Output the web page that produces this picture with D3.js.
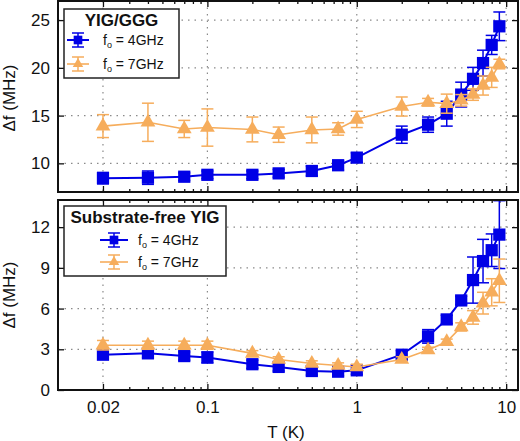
<!DOCTYPE html>
<html>
<head>
<meta charset="utf-8">
<script src="https://cdn.jsdelivr.net/npm/d3@7"></script>
<style>
  body { margin: 0; background: #fff; }
  text { font-family: "Liberation Sans", Arial, sans-serif; }
</style>
</head>
<body>
<div class="viz"></div>
<script>
// temperatures (K) shared by every series
var temps = [0.02, 0.04, 0.07, 0.1, 0.2, 0.3, 0.5, 0.75, 1, 2, 3, 4, 5, 6, 7, 8, 9];

// YIG/GGG linewidths (MHz)
var ggg4 = [8.45, 8.5, 8.6, 8.8, 8.8, 8.95, 9.2, 9.8, 10.6, 13.0, 14.05, 15.2, 17.2, 18.85, 20.5, 22.4, 24.35];
var ggg4Err = [0.6, 0.7, 0.4, 0.4, 0.4, 0.4, 0.5, 0.5, 0.5, 0.9, 0.8, 1.3, 1.3, 1.2, 1.35, 1.0, 1.5];
var ggg7 = [13.9, 14.3, 13.6, 13.75, 13.55, 13.0, 13.5, 13.6, 14.6, 15.95, 16.4, 16.25, 16.6, 17.2, 18.15, 19.0, 20.4];
var ggg7Err = [1.2, 2.0, 0.9, 1.95, 1.3, 0.8, 1.35, 0.65, 0.85, 1.0, 0.4, 1.0, 0.6, 0.6, 1.0, 1.05, 0.5];

// substrate-free YIG linewidths (MHz)
var free4 = [2.6, 2.7, 2.5, 2.4, 1.9, 1.7, 1.4, 1.35, 1.45, 2.6, 3.95, 5.2, 6.6, 8.1, 9.5, 10.3, 11.45];
var free4Err = [0.3, 0.3, 0.3, 0.4, 0.3, 0.3, 0.3, 0.3, 0.3, 0.3, 0.5, 0.3, 0.3, 1.7, 1.6, 1.2, 2.5];
var free7 = [3.3, 3.3, 3.3, 3.3, 2.7, 2.25, 1.95, 1.8, 1.7, 2.25, 2.95, 3.55, 4.65, 5.35, 6.4, 7.2, 8.05];
var free7Err = [0.35, 0.3, 0.3, 0.3, 0.2, 0.2, 0.2, 0.2, 0.2, 0.2, 0.2, 0.2, 0.3, 0.5, 0.8, 1.0, 1.6];

// ticks
var xMajor = [0.02, 0.1, 1, 10];
var xMinor = [0.03, 0.04, 0.05, 0.06, 0.07, 0.08, 0.09, 0.2, 0.3, 0.4, 0.5, 0.6, 0.7, 0.8, 0.9, 2, 3, 4, 5, 6, 7, 8, 9];
var gggTicks = [10, 15, 20, 25];
var freeTicks = [0, 3, 6, 9, 12];

var BLUE = "#0000e6", ORANGE = "#f6ad5c";

var width = 520, height = 441;
var left = 58, right = 518;

var svg = d3.select(".viz")
  .append("svg")
    .attr("width", width)
    .attr("height", height);

var x = d3.scaleLog()
  .domain([0.01, 12])
  .range([left, right]);

var panels = [
  { top: 1, bottom: 192, domain: [7, 27], ticks: gggTicks, title: "YIG/GGG",
    s4: ggg4, e4: ggg4Err, s7: ggg7, e7: ggg7Err,
    legend: { x: 64, y: 9, w: 115, h: 69, mx: 78, lx0: 67, lx1: 89, tx: 103, ty: 26, r1: 40, r2: 64 },
    labelY: 98, xLabels: false },
  { top: 200, bottom: 390, domain: [0, 14], ticks: freeTicks, title: "Substrate-free YIG",
    s4: free4, e4: free4Err, s7: free7, e7: free7Err,
    legend: { x: 64, y: 206, w: 162, h: 70, mx: 114, lx0: 100, lx1: 128, tx: 138, ty: 223, r1: 240, r2: 262 },
    labelY: 295, xLabels: true }
];

panels.forEach(function(p) {
  var y = d3.scaleLinear().domain(p.domain).range([p.bottom, p.top]);
  var g = svg.append("g");

  // grid
  g.append("g").selectAll("line.vgrid")
    .data(xMajor)
    .join("line")
      .attr("x1", d => x(d)).attr("x2", d => x(d))
      .attr("y1", p.top).attr("y2", p.bottom)
      .attr("stroke", "#8a8a8a").attr("stroke-width", 1.2)
      .attr("stroke-dasharray", "1.5,5");
  g.append("g").selectAll("line.hgrid")
    .data(p.ticks.filter(d => d > p.domain[0]))
    .join("line")
      .attr("x1", left).attr("x2", right)
      .attr("y1", d => y(d)).attr("y2", d => y(d))
      .attr("stroke", "#8a8a8a").attr("stroke-width", 1.2)
      .attr("stroke-dasharray", "1.5,5");

  // ticks on all four sides, pointing inwards
  var fmt = d3.format("");
  g.append("g").attr("transform", "translate(0," + p.bottom + ")")
    .call(d3.axisBottom(x).tickValues(xMajor).tickSize(-6).tickPadding(11)
      .tickFormat(p.xLabels ? fmt : ""));
  g.append("g").attr("transform", "translate(0," + p.bottom + ")")
    .call(d3.axisBottom(x).tickValues(xMinor).tickSize(-3).tickFormat(""));
  g.append("g").attr("transform", "translate(0," + p.top + ")")
    .call(d3.axisTop(x).tickValues(xMajor).tickSize(-6).tickFormat(""));
  g.append("g").attr("transform", "translate(0," + p.top + ")")
    .call(d3.axisTop(x).tickValues(xMinor).tickSize(-3).tickFormat(""));
  g.append("g").attr("transform", "translate(" + left + ",0)")
    .call(d3.axisLeft(y).tickValues(p.ticks).tickSize(-6).tickPadding(8));
  g.append("g").attr("transform", "translate(" + right + ",0)")
    .call(d3.axisRight(y).tickValues(p.ticks).tickSize(-6).tickFormat(""));

  g.selectAll(".domain").remove();
  g.selectAll(".tick line").attr("stroke", "#111").attr("stroke-width", 1.3);
  g.selectAll(".tick text")
    .attr("fill", "#111")
    .style("font-size", "17px");

  // series: blue squares first, orange triangles on top
  var series = [
    { vals: p.s4, errs: p.e4, color: BLUE, shape: d3.symbolSquare, size: 150, lw: 2 },
    { vals: p.s7, errs: p.e7, color: ORANGE, shape: d3.symbolTriangle, size: 95, lw: 1.6 }
  ];

  series.forEach(function(s) {
    var pts = temps.map((t, i) => ({ t: t, v: s.vals[i], e: s.errs[i] }));
    var sg = g.append("g");

    sg.append("path")
      .datum(pts)
      .attr("fill", "none")
      .attr("stroke", s.color)
      .attr("stroke-width", s.lw)
      .attr("d", d3.line().x(d => x(d.t)).y(d => y(d.v)));

    var eb = sg.selectAll("g.err")
      .data(pts)
      .join("g")
        .attr("stroke", s.color)
        .attr("stroke-width", 1.5);
    eb.append("line")
      .attr("x1", d => x(d.t)).attr("x2", d => x(d.t))
      .attr("y1", d => y(d.v - d.e)).attr("y2", d => y(d.v + d.e));
    eb.append("line")
      .attr("x1", d => x(d.t) - 6).attr("x2", d => x(d.t) + 6)
      .attr("y1", d => y(d.v - d.e)).attr("y2", d => y(d.v - d.e));
    eb.append("line")
      .attr("x1", d => x(d.t) - 6).attr("x2", d => x(d.t) + 6)
      .attr("y1", d => y(d.v + d.e)).attr("y2", d => y(d.v + d.e));

    sg.selectAll("path.mark")
      .data(pts)
      .join("path")
        .attr("class", "mark")
        .attr("transform", d => "translate(" + x(d.t) + "," + y(d.v) + ")")
        .attr("d", d3.symbol().type(s.shape).size(s.size))
        .attr("fill", s.color);
  });

  // frame
  g.append("rect")
    .attr("x", left).attr("y", p.top)
    .attr("width", right - left).attr("height", p.bottom - p.top)
    .attr("fill", "none")
    .attr("stroke", "#111")
    .attr("stroke-width", 2);

  // y label
  g.append("text")
    .attr("transform", "translate(15," + p.labelY + ") rotate(-90)")
    .attr("text-anchor", "middle")
    .attr("fill", "#111")
    .style("font-size", "17px")
    .text("Δf (MHz)");

  // legend
  var L = p.legend;
  var lg = g.append("g");
  lg.append("rect")
    .attr("x", L.x).attr("y", L.y).attr("width", L.w).attr("height", L.h)
    .attr("fill", "#fff").attr("stroke", "#222").attr("stroke-width", 1.5);
  lg.append("text")
    .attr("x", L.x + L.w / 2).attr("y", L.ty)
    .attr("text-anchor", "middle")
    .attr("fill", "#111")
    .style("font-size", "17px").style("font-weight", "bold")
    .text(p.title);

  [{ row: L.r1, s: series[0], label: " = 4GHz" }, { row: L.r2, s: series[1], label: " = 7GHz" }]
    .forEach(function(e) {
      lg.append("line")
        .attr("x1", L.lx0).attr("x2", L.lx1).attr("y1", e.row).attr("y2", e.row)
        .attr("stroke", e.s.color).attr("stroke-width", e.s.lw);
      lg.append("line")
        .attr("x1", L.mx).attr("x2", L.mx).attr("y1", e.row - 7).attr("y2", e.row + 7)
        .attr("stroke", e.s.color).attr("stroke-width", 1.5);
      [-7, 7].forEach(function(o) {
        lg.append("line")
          .attr("x1", L.mx - 6).attr("x2", L.mx + 6).attr("y1", e.row + o).attr("y2", e.row + o)
          .attr("stroke", e.s.color).attr("stroke-width", 1.5);
      });
      lg.append("path")
        .attr("transform", "translate(" + L.mx + "," + e.row + ")")
        .attr("d", d3.symbol().type(e.s.shape).size(e.s.size * 0.5))
        .attr("fill", e.s.color);
      var t = lg.append("text")
        .attr("x", L.tx).attr("y", e.row + 5)
        .attr("fill", "#111")
        .style("font-size", "14px");
      t.append("tspan").text("f");
      t.append("tspan").attr("dy", 3).style("font-size", "9px").text("o");
      t.append("tspan").attr("dy", -3).text(e.label);
    });
});

// x label
svg.append("text")
  .attr("x", 286).attr("y", 438)
  .attr("text-anchor", "middle")
  .attr("fill", "#111")
  .style("font-size", "17px")
  .text("T (K)");
</script>
</body>
</html>
